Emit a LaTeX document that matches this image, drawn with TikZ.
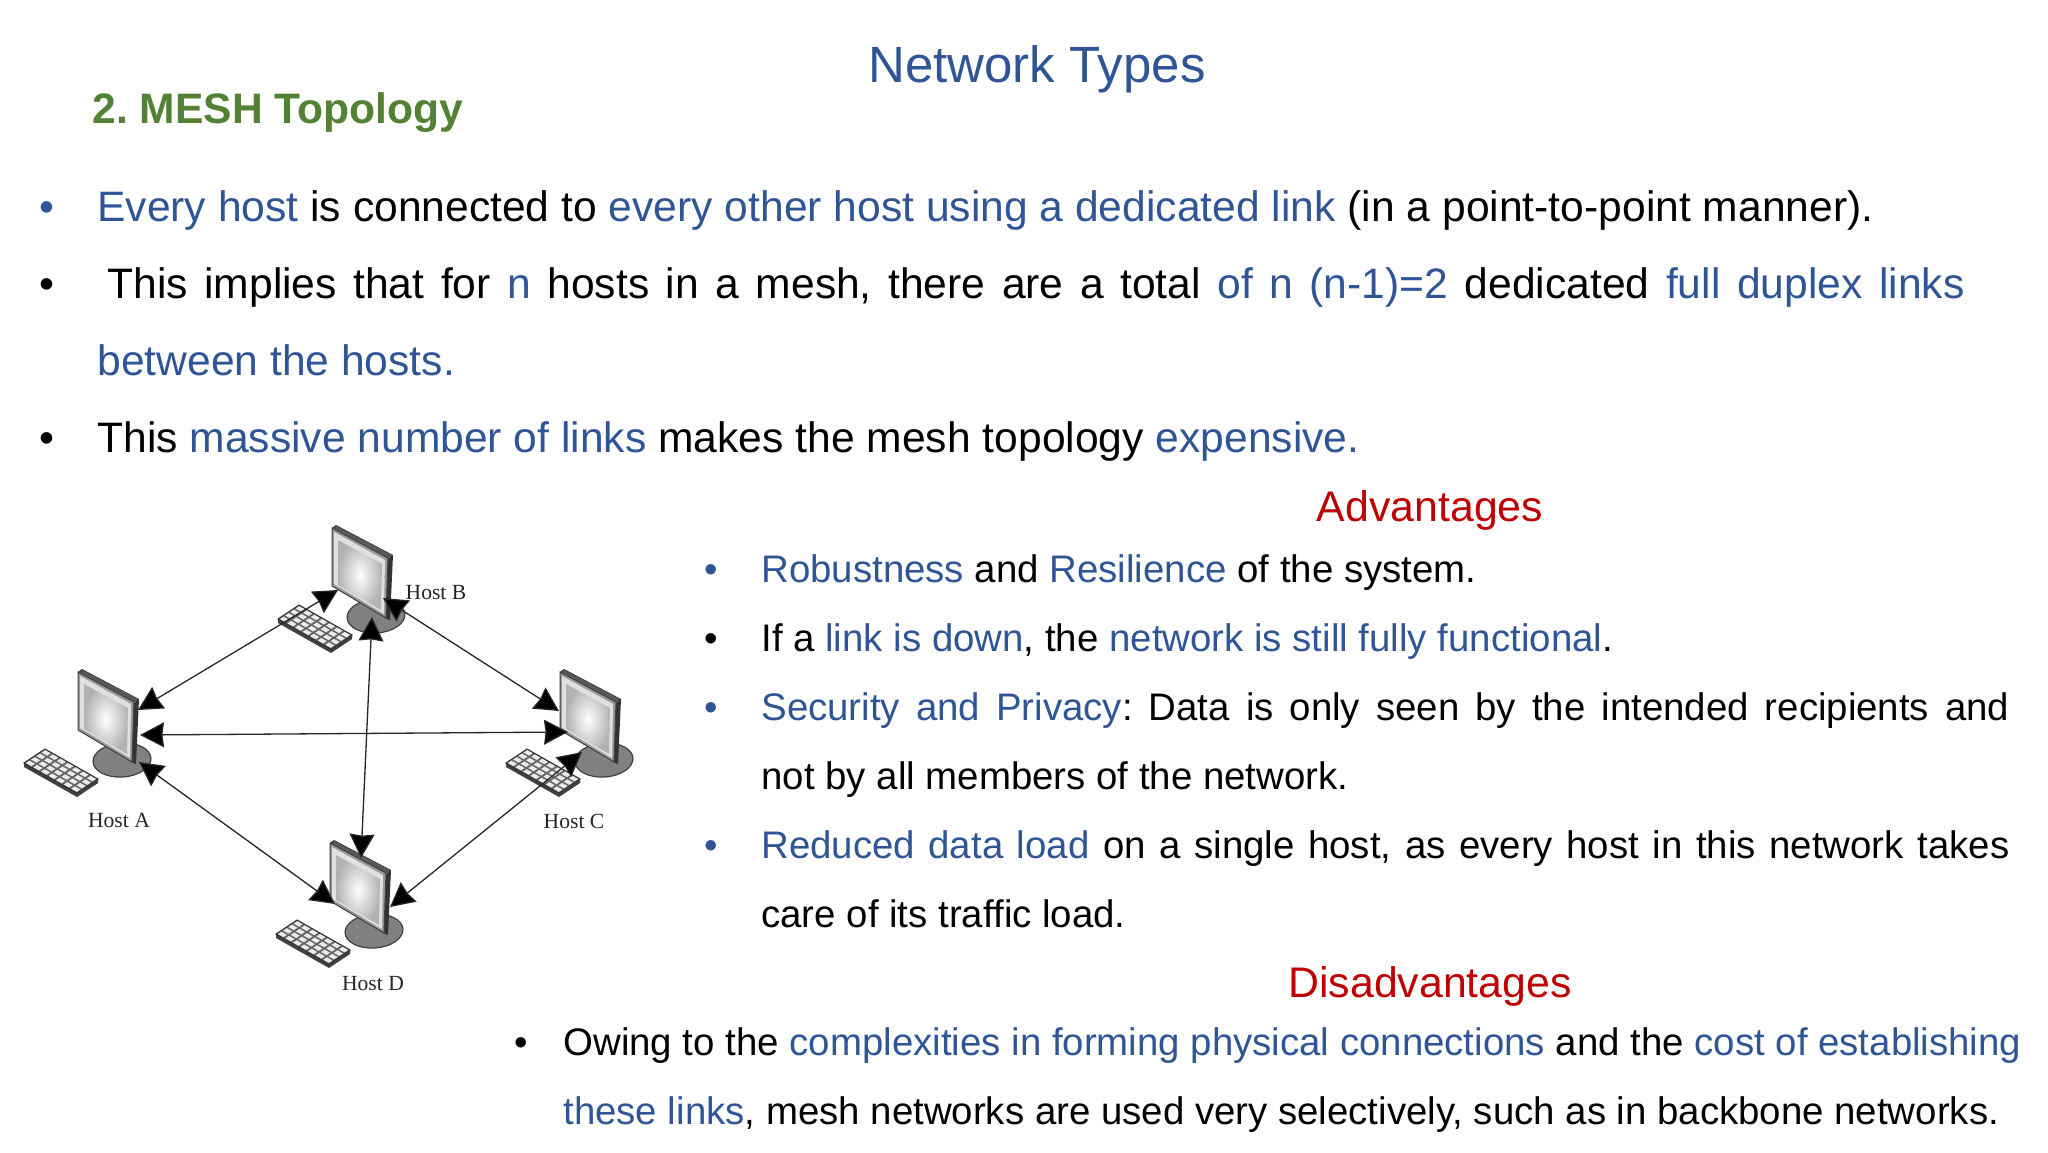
\documentclass[tikz,border=0pt]{standalone}
\usepackage{fontspec}
\setmainfont{Liberation Sans}
\newfontfamily\hostfont{Liberation Serif}
\usetikzlibrary{arrows.meta}
\definecolor{tblue}{HTML}{2F5597}
\definecolor{tgreen}{HTML}{548235}
\definecolor{tred}{HTML}{C00000}
\newcommand{\bl}[1]{\textcolor{tblue}{#1}}
\frenchspacing
\tikzset{
  big/.style={anchor=base west,inner sep=0pt,font=\fontsize{21.3}{25}\selectfont},
  small/.style={anchor=base west,inner sep=0pt,font=\fontsize{19.2}{23}\selectfont},
  head/.style={anchor=base,inner sep=0pt,text=tred,font=\fontsize{21.4}{25}\selectfont},
  hostlabel/.style={anchor=base,inner sep=0pt,font=\hostfont\fontsize{10.8}{12}\selectfont,text=black!85},
  link/.style={draw=black!85,line width=0.65pt,{Stealth[length=12pt,width=12.5pt,inset=0.8pt,fill=black]}-{Stealth[length=12pt,width=12.5pt,inset=0.8pt,fill=black]}},
  pics/host/.style={code={
    % base
    \fill[black!50,draw=black!75,line width=0.6pt,rotate around={4:(44,88)}] (44,88) ellipse[x radius=29,y radius=17];
    % keyboard
    \fill[black!75] (-33,77) -- (20,107) -- (20,111) -- (-1,125) -- (-54,95) -- (-54,91) -- cycle;
    \begin{scope}[shift={(-33,77)},x={(26.5pt,-15pt)},y={(-10.5pt,-7pt)}]
      \fill[black!60,draw=black!80,line width=0.5pt] (0,0) -- (1,0) -- (1,1) -- (0,1) -- cycle;
      \foreach \i in {0,...,6}{\foreach \j in {0,...,3}{
        \pgfmathsetmacro{\ua}{(\i+.14)/7}\pgfmathsetmacro{\ub}{(\i+.86)/7}
        \pgfmathsetmacro{\va}{(\j+.16)/4}\pgfmathsetmacro{\vb}{(\j+.84)/4}
        \fill[white!92!black] (\ua,\va) -- (\ub,\va) -- (\ub,\vb) -- (\ua,\vb) -- cycle;
      }}
    \end{scope}
    % monitor
    \fill[black!80] (0,0) -- (4,-3) -- (61,27) -- (58,92) -- (53,90) -- cycle;
    \fill[black!65] (4,-2) -- (60,27) -- (57,31) -- (2,1) -- cycle;
    \fill[black!40,draw=black!75,line width=0.5pt] (0,0) -- (56,30) -- (54,90) -- (0,58) -- cycle;
    \fill[black!12] (2,4) -- (53,32) -- (52,86) -- (2,56) -- cycle;
    \shade[inner color=white,outer color=black!30] (6,12) -- (50,36) -- (49,82) -- (6,57) -- cycle;
  }}
}
\begin{document}
\begin{tikzpicture}[x=0.5pt,y=-0.5pt]
\useasboundingbox[fill=white] (0,0) rectangle (2048,1152);

\node[anchor=base,inner sep=0pt,text=tblue,font=\fontsize{25.5}{30}\selectfont] (title) at (1037,82) {Network Types};
\node[anchor=base west,inner sep=0pt,text=tgreen,font=\bfseries\fontsize{21.3}{25}\selectfont] (sub) at (92,123) {2. MESH Topology};

\node[big,text=tblue] (b1) at (39,221) {•};
\node[big] (l1) at (97,221) {\bl{Every host} is connected to \bl{every other host using a dedicated link} (in a point-to-point manner).};
\node[big] (b2) at (39,298) {•};
\node[big] (l2) at (107,298) {\makebox[928.5pt][s]{This implies that for \bl{n} hosts in a mesh, there are a total \bl{of n (n-1)=2} dedicated \bl{full duplex links}}};
\node[big,text=tblue] (l3) at (97,375) {between the hosts.};
\node[big] (b4) at (39,452) {•};
\node[big] (l4) at (97,452) {This \bl{massive number of links} makes the mesh topology \bl{expensive.}};

\node[head] (adv) at (1430,521) {Advantages};
\node[small,text=tblue] (a1b) at (704,582) {•};
\node[small] (a1) at (761,582) {\bl{Robustness} and \bl{Resilience} of the system.};
\node[small] (a2b) at (704,651) {•};
\node[small] (a2) at (761,651) {If a \bl{link is down}, the \bl{network is still fully functional}.};
\node[small,text=tblue] (a3b) at (704,720) {•};
\node[small] (a3) at (761,720) {\makebox[624pt][s]{\bl{Security and Privacy}: Data is only seen by the intended recipients and}};
\node[small] (a4) at (761,789) {not by all members of the network.};
\node[small,text=tblue] (a5b) at (704,858) {•};
\node[small] (a5) at (761,858) {\makebox[624pt][s]{\bl{Reduced data load} on a single host, as every host in this network takes}};
\node[small] (a6) at (761,927) {care of its traffic load.};

\node[head] (dis) at (1430,997) {Disadvantages};
\node[small] (d1b) at (514,1055) {•};
\node[small] (d1) at (563,1055) {Owing to the \bl{complexities in forming physical connections} and the \bl{cost of establishing}};
\node[small] (d2) at (563,1124) {\bl{these links}, mesh networks are used very selectively, such as in backbone networks.};

% hosts
\pic (hostB) at (332,528) {host};
\pic (hostA) at (78,672) {host};
\pic (hostC) at (560,672) {host};
\pic (hostD) at (330,843) {host};

\node[hostlabel] (la) at (119,827) {Host A};
\node[hostlabel] (lb) at (436,599) {Host B};
\node[hostlabel] (lc) at (574,828) {Host C};
\node[hostlabel] (ld) at (373,990) {Host D};

% connection points
\coordinate (AtoB) at (138,710); \coordinate (BtoA) at (338,590);
\coordinate (AtoC) at (140,735); \coordinate (CtoA) at (568,732);
\coordinate (AtoD) at (139,762); \coordinate (DtoA) at (335,904);
\coordinate (BtoC) at (383,598); \coordinate (CtoB) at (559,711);
\coordinate (BtoD) at (372,617); \coordinate (DtoB) at (361,858);
\coordinate (CtoD) at (582,752); \coordinate (DtoC) at (390,907);

\draw[link] (AtoB) -- (BtoA);
\draw[link] (AtoC) -- (CtoA);
\draw[link] (AtoD) -- (DtoA);
\draw[link] (BtoC) -- (CtoB);
\draw[link] (BtoD) -- (DtoB);
\draw[link] (CtoD) -- (DtoC);
\end{tikzpicture}
\end{document}
